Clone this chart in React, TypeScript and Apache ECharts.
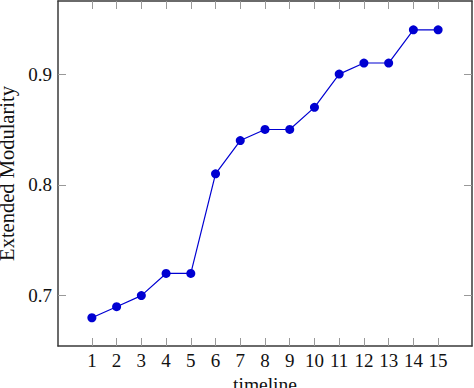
import React, { useEffect, useRef } from "react";
import * as echarts from "echarts";

const timeline: number[] = [1, 2, 3, 4, 5, 6, 7, 8, 9, 10, 11, 12, 13, 14, 15];
const modularity: number[] = [0.68, 0.69, 0.70, 0.72, 0.72, 0.81, 0.84, 0.85, 0.85, 0.87, 0.90, 0.91, 0.91, 0.94, 0.94];
const yTicks: number[] = [0.7, 0.8, 0.9];

const FONT = "'Liberation Serif', 'DejaVu Serif', serif";
const AXIS_COLOR = "#3a3a3a";
const TICK_COLOR = "#999999";
const BLUE = "#0000d2";

export default function App() {
  const ref = useRef<HTMLDivElement>(null);
  useEffect(() => {
    document.body.style.margin = "0";
    if (!ref.current) return;
    const chart = echarts.init(ref.current, null, { renderer: "svg" });
    const xMin = -0.37;
    const xMax = 16.37;
    const yMin = 0.6545;
    const yMax = 0.966;
    const axisLine = { show: true, onZero: false, lineStyle: { color: AXIS_COLOR, width: 1.5 } };
    const tick = (vals: number[]) => ({
      show: true,
      inside: true,
      length: 8,
      customValues: vals,
      lineStyle: { color: TICK_COLOR, width: 1 },
    });
    chart.setOption({
      animation: false,
      backgroundColor: "#ffffff",
      grid: { left: 58, top: 1, right: 2, bottom: 42, containLabel: false, outerBoundsMode: "none" },
      xAxis: [
        {
          type: "value",
          position: "bottom",
          min: xMin,
          max: xMax,
          axisLine,
          axisTick: tick(timeline),
          splitLine: { show: false },
          axisLabel: {
            customValues: timeline,
            color: "#111",
            fontFamily: FONT,
            fontSize: 19,
            margin: 5,
          },
          name: "timeline",
          nameLocation: "middle",
          nameGap: 28,
          nameTextStyle: { color: "#111", fontFamily: FONT, fontSize: 19.5 },
        },
        {
          type: "value",
          position: "top",
          min: xMin,
          max: xMax,
          axisLine,
          axisTick: tick(timeline),
          splitLine: { show: false },
          axisLabel: { show: false },
        },
      ],
      yAxis: [
        {
          type: "value",
          position: "left",
          min: yMin,
          max: yMax,
          axisLine,
          axisTick: tick(yTicks),
          splitLine: { show: false },
          axisLabel: {
            customValues: yTicks,
            formatter: (v: number) => v.toFixed(1),
            color: "#111",
            fontFamily: FONT,
            fontSize: 19,
            margin: 6,
          },
          name: "Extended Modularity",
          nameLocation: "middle",
          nameGap: 38,
          nameTextStyle: { color: "#111", fontFamily: FONT, fontSize: 20.5 },
        },
        {
          type: "value",
          position: "right",
          min: yMin,
          max: yMax,
          axisLine,
          axisTick: tick(yTicks),
          splitLine: { show: false },
          axisLabel: { show: false },
        },
      ],
      series: [
        {
          type: "line",
          data: timeline.map((t, i) => [t, modularity[i]]),
          xAxisIndex: 0,
          yAxisIndex: 0,
          symbol: "circle",
          symbolSize: 9,
          showSymbol: true,
          lineStyle: { color: BLUE, width: 1.2 },
          itemStyle: { color: BLUE },
        },
      ],
    });
    return () => chart.dispose();
  }, []);
  return <div ref={ref} style={{ width: 474, height: 388 }} />;
}
